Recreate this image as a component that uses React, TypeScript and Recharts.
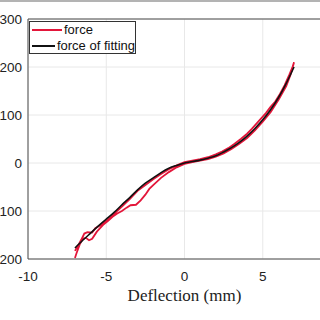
import { LineChart, Line, XAxis, YAxis, CartesianGrid, ReferenceLine } from 'recharts';

// fitted curve (black)
const fitX = [-7, -6.5, -6, -5.5, -5, -4.5, -4, -3.5, -3, -2.5, -2, -1.5, -1, -0.5, 0, 0.5, 1, 1.5, 2, 2.5, 3, 3.5, 4, 4.5, 5, 5.5, 6, 6.5, 7];
const fitY = [-177, -161, -146, -131, -117, -103, -87, -72, -56, -42, -31, -20, -11, -5, 0, 3, 6, 10, 15, 23, 32, 43, 56, 72, 90, 111, 136, 166, 200];

// measured force loop (red): loading branch then unloading branch
const forceX = [
  -7.0, -6.9, -6.7, -6.5, -6.3, -6.1, -5.9, -5.6, -5.2, -4.9, -4.6, -4.3, -4.0, -3.7, -3.45, -3.1, -2.8, -2.5, -2.25, -2.0,
  -1.5, -1.0, -0.5, 0, 0.5, 1.0, 1.5, 2.0, 2.5, 3.0, 3.5, 4.0, 4.5, 5.0, 5.5, 6.0, 6.5, 6.8, 7.0,
  6.9, 6.7, 6.4, 6.1, 5.8, 5.5, 5.2, 4.9, 4.6, 4.3, 4.0, 3.6, 3.2, 2.8, 2.4, 2.0, 1.5, 1.0, 0.5, 0,
  -0.5, -1.0, -1.5, -2.0, -2.5, -3.0, -3.5, -4.0, -4.5, -5.0, -5.4, -5.7, -5.9, -6.2, -6.4, -6.6, -6.8, -7.0,
];
const forceY = [
  -198, -188, -170, -158, -156, -161, -158, -143, -129, -121, -112, -105, -100, -93, -88, -87, -78, -66, -54, -46,
  -31, -19, -9, -2, 2, 5, 8, 13, 20, 29, 40, 52, 68, 86, 106, 131, 160, 186, 210,
  200, 184, 162, 144, 128, 117, 104, 93, 82, 71, 61, 50, 40, 31, 24, 18, 12, 8, 5, 2,
  -5, -13, -23, -34, -46, -58, -75, -91, -106, -121, -130, -136, -145, -144, -147, -160, -172, -183,
];

const xTicks = [-10, -5, 0, 5, 10];
const yTicks = [-200, -100, 0, 100, 200, 300];
const legendNames = ['force', 'force of fitting'];

const fitData = fitX.map((x, i) => ({ x, y: fitY[i] }));
const forceData = forceX.map((x, i) => ({ x, y: forceY[i] }));

const RED = '#e3163a';
const BLACK = '#111';
const tickStyle = { fontSize: 13.5, fill: '#222', fontFamily: '"Liberation Sans", Arial, sans-serif' };

function LegendBox() {
  const colors = [RED, BLACK];
  return (
    <div
      style={{
        position: 'absolute',
        left: 29,
        top: 21,
        width: 105,
        height: 31,
        border: '1px solid #333',
        background: '#fff',
        fontFamily: '"Liberation Sans", Arial, sans-serif',
        fontSize: 13,
        color: '#111',
        lineHeight: '16px',
        whiteSpace: 'nowrap',
        zIndex: 3,
      }}
    >
      {legendNames.map((name, i) => (
        <div key={name} style={{ display: 'flex', alignItems: 'center', height: 16, paddingLeft: 2 }}>
          <div style={{ width: 30, height: 2, background: colors[i], marginRight: 2 }} />
          <span>{name}</span>
        </div>
      ))}
    </div>
  );
}

export default function App() {
  return (
    <div style={{ position: 'absolute', left: 0, top: 0, width: 320, height: 320, overflow: 'hidden', background: '#fff' }}>
      <div style={{ position: 'absolute', left: 0, top: 0, width: 320, height: 2, background: '#b3b3b3', zIndex: 2 }} />
      <div style={{ position: 'absolute', left: -12, top: 0 }}>
        <LineChart width={363} height={320} margin={{ top: 19, right: 10, bottom: 0, left: 0 }}>
          <CartesianGrid stroke="#e8e8e8" strokeWidth={1} />
          <XAxis
            dataKey="x"
            type="number"
            domain={[-10, 10]}
            ticks={xTicks}
            height={61}
            stroke="#4d4d4d"
            tickLine={false}
            tickSize={4}
            tickMargin={8}
            tick={tickStyle}
            label={{
              value: 'Deflection (mm)',
              position: 'insideBottom',
              offset: 19,
              style: { fontSize: 17, fill: '#222', fontFamily: '"Liberation Serif", "Times New Roman", serif' },
            }}
          />
          <YAxis
            type="number"
            domain={[-200, 300]}
            ticks={yTicks}
            width={40}
            stroke="#4d4d4d"
            tickLine={false}
            tickSize={4}
            tickMargin={2}
            tick={tickStyle}
          />
          <ReferenceLine y={300} stroke="#4d4d4d" />
          <ReferenceLine x={10} stroke="#4d4d4d" />
          <Line
            data={forceData}
            dataKey="y"
            name={legendNames[0]}
            type="linear"
            stroke={RED}
            strokeWidth={1.8}
            dot={false}
            isAnimationActive={false}
          />
          <Line
            data={fitData}
            dataKey="y"
            name={legendNames[1]}
            type="monotone"
            stroke={BLACK}
            strokeWidth={1.6}
            dot={false}
            isAnimationActive={false}
          />
        </LineChart>
      </div>
      <LegendBox />
    </div>
  );
}
